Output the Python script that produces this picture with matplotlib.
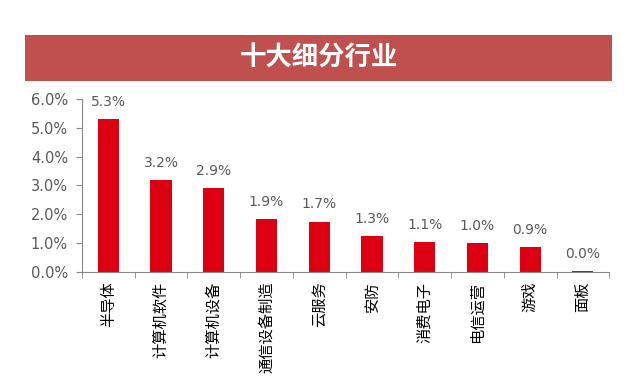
import numpy as np
import matplotlib.pyplot as plt
from matplotlib.patches import Rectangle

plt.rcParams['font.family'] = ['Noto Sans CJK SC', 'DejaVu Sans']

categories = ['半导体', '计算机软件', '计算机设备', '通信设备制造', '云服务', '安防', '消费电子', '电信运营', '游戏', '面板']
values = [5.3, 3.2, 2.9, 1.85, 1.75, 1.25, 1.05, 1.0, 0.86, 0.02]
value_labels = ['5.3%', '3.2%', '2.9%', '1.9%', '1.7%', '1.3%', '1.1%', '1.0%', '0.9%', '0.0%']
yticks = [0, 1, 2, 3, 4, 5, 6]

grey = '#595959'
fig = plt.figure(figsize=(6.4, 3.89), dpi=100)
fig.patch.set_facecolor('white')

# 标题横幅
fig.patches.append(Rectangle((0.039, 0.792), 0.917, 0.118, transform=fig.transFigure,
                             facecolor='#C0504D', edgecolor='none'))
fig.text(0.4977, 0.851, '十大细分行业', color='white', fontsize=19, fontweight='bold',
         ha='center', va='center')

ax = fig.add_axes([0.128, 0.3008, 0.824, 0.4447])
x = np.arange(len(categories))
ax.bar(x, values, width=0.4, color='#DC0012')
for xi, v, lab in zip(x, values, value_labels):
    ax.text(xi, v + 0.35, lab, ha='center', va='bottom', fontsize=10, color=grey, family='DejaVu Sans')

ax.set_xlim(-0.5, len(categories) - 0.5)
ax.set_ylim(0, 6)
ax.set_yticks(yticks)
ax.set_yticklabels(['%.1f%%' % t for t in yticks], fontsize=10.5, color=grey, family='DejaVu Sans')
ax.set_xticks(x)
ax.set_xticklabels(categories, rotation=90, fontsize=11, color='black', va='top')
ax.tick_params(axis='x', length=0, pad=7)
ax.set_xticks(np.arange(-0.5, len(categories)), minor=True)
ax.tick_params(axis='x', which='minor', length=4, color='#888888')
ax.tick_params(axis='y', length=4, color='#888888', pad=6)
for s in ['top', 'right']:
    ax.spines[s].set_visible(False)
for s in ['left', 'bottom']:
    ax.spines[s].set_color('#888888')

plt.savefig('out.png', dpi=100)
